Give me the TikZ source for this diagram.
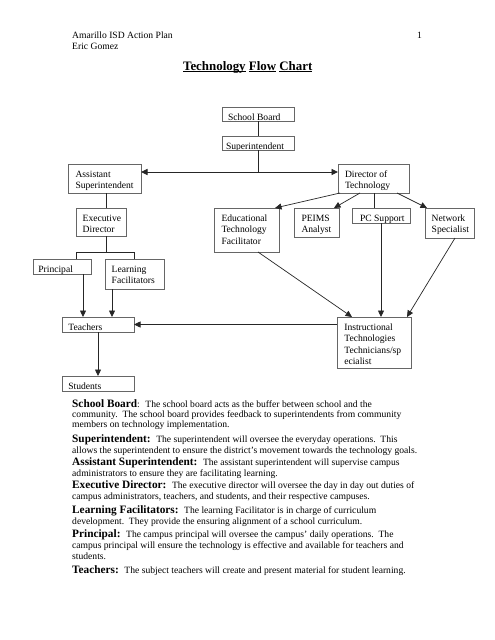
\documentclass[tikz,border=0pt]{standalone}
\usepackage{fontspec}
\setmainfont{Liberation Serif}
\usetikzlibrary{arrows.meta}
\newcommand\boxfont{\fontsize{9.6}{11.2}\selectfont}
\newcommand\descfont{\fontsize{9.6}{11.2}\selectfont}
\newcommand\hd{\fontsize{11.3}{13}\selectfont\bfseries}
\newcommand\boxtxt[1]{\begin{tabular}[t]{@{}l@{}}#1\end{tabular}}
\newcommand\myul[1]{\setbox0\hbox{#1}\rlap{\rule[-2.2pt]{\wd0}{0.8pt}}\box0\relax}
\tikzset{
  box/.style={draw=black!60, line width=0.6pt, inner sep=0pt, outer sep=0pt, anchor=north west},
  conn/.style={draw=black!85, line width=0.7pt},
  arr/.style={-{Triangle[length=6.5pt,width=6pt]}},
  desc/.style={anchor=base west, inner sep=0pt, font=\descfont},
}
\newcommand\chartbox[7][7]{%
  \node[box, minimum width=#5pt, minimum height=#6pt,
    path picture={\node[anchor=base west, inner sep=0pt, minimum width=0pt, minimum height=0pt, font=\boxfont]
      at ([xshift=#1pt, yshift=-13.6pt]path picture bounding box.north west) {\boxtxt{#7}};}]
    (#2) at (#3,#4) {};}
\begin{document}
\begin{tikzpicture}[x=1pt,y=-1pt]
\useasboundingbox[fill=white] (0,0) rectangle (495,640);
% header
\node[desc] (h1) at (72,38) {Amarillo ISD Action Plan};
\node[desc] (h2) at (72,49.5) {Eric Gomez};
\node[anchor=base east, inner sep=0pt, font=\descfont] (pg) at (422,38) {1};
\node[anchor=base, inner sep=0pt, font=\fontsize{12.9}{15}\selectfont\bfseries] (title) at (247.7,70)
  {\myul{Technology} \myul{Flow} \myul{Chart}};
% boxes
\chartbox[6]{SB}{222}{107}{72}{14}{School Board}
\chartbox[4]{Sup}{222}{136}{72}{14}{Superintendent}
\chartbox[7.5]{ASup}{68}{164}{73}{29}{Assistant\\Superintendent}
\chartbox[6.7]{ED}{76}{208}{50}{28}{Executive\\Director}
\chartbox[5.3]{Pri}{33}{259}{58}{15}{Principal}
\chartbox[6.7]{LF}{105}{259}{59}{30}{Learning\\Facilitators}
\chartbox[6.3]{Tea}{62}{317}{72}{15}{Teachers}
\chartbox[6.3]{Stu}{62}{376}{72}{15}{Students}
\chartbox[7]{DT}{338}{164}{71}{29}{Director of\\Technology}
\chartbox[7.5]{ETF}{214}{208}{65}{44}{Educational\\Technology\\Facilitator}
\chartbox[7.5]{PEIMS}{294}{208}{45}{29}{PEIMS\\Analyst}
\chartbox[8]{PC}{352}{208}{58}{15}{PC Support}
\chartbox[6.7]{NS}{425}{208}{49}{30}{Network\\Specialist}
\chartbox[7.3]{IT}{337}{317}{74}{51}{Instructional\\Technologies\\Technicians/sp\\ecialist}
% connectors
\coordinate (J) at (258,172);
\draw[conn] (SB.south) -- (Sup.north);
\draw[conn] (Sup.south) -- (J);
\draw[conn,arr,line width=0.9pt] (J) -- (J -| ASup.east);
\draw[conn,arr,line width=0.9pt] (J) -- (J -| DT.west);
\coordinate (ea) at (106,200);
\draw[conn] (ea |- ASup.south) -- (ea |- ED.north);
\coordinate (bl) at (76,252);
\coordinate (br) at (134,252);
\draw[conn] (ea |- ED.south) -- (ea |- bl);
\draw[conn] (bl |- Pri.north) -- (bl) -- (br) -- (br |- LF.north);
\coordinate (pa) at (83,300);
\coordinate (la) at (112,300);
\draw[conn,arr] (pa |- Pri.south) -- (pa |- Tea.north);
\draw[conn,arr] (la |- LF.south) -- (la |- Tea.north);
\draw[conn,arr] (Tea.south) -- (Stu.north);
\draw[conn,arr] (Tea.east -| IT.west) -- (Tea.east);
\draw[conn,arr] ([xshift=2pt]DT.south west) -- ([xshift=-4pt]ETF.north east);
\draw[conn,arr] ([xshift=22pt]DT.south west) -- ([xshift=-5pt]PEIMS.north east);
\coordinate (pcx) at (374.5,200);
\draw[conn] (pcx |- DT.south) -- (pcx |- PC.north);
\draw[conn,arr] ([xshift=-12pt]DT.south east) -- ([xshift=2pt]NS.north west);
\draw[conn,arr] ([xshift=11.5pt]ETF.south) -- ([xshift=15pt]IT.north west);
\draw[conn,arr] (PC.south) -- (PC.south |- IT.north);
\draw[conn,arr] ([xshift=5.5pt]NS.south) -- ([xshift=-4pt]IT.north east);
% descriptions
\node[desc] (d1) at (72,407) {{\hd School Board}: \ The school board acts as the buffer between school and the};
\node[desc] (d2) at (72,417.5) {community.\ \ The school board provides feedback to superintendents from community};
\node[desc] (d3) at (72,427.5) {members on technology implementation.};
\node[desc] (d4) at (72,442) {{\hd Superintendent:} \ The superintendent will oversee the everyday operations.\ \ This};
\node[desc] (d5) at (72,453) {allows the superintendent to ensure the district’s movement towards the technology goals.};
\node[desc] (d6) at (72,465) {{\hd Assistant Superintendent:} \ The assistant superintendent will supervise campus};
\node[desc] (d7) at (72,476) {administrators to ensure they are facilitating learning.};
\node[desc] (d8) at (72,488.5) {{\hd Executive Director:} \ The executive director will oversee the day in day out duties of};
\node[desc] (d9) at (72,499.5) {campus administrators, teachers, and students, and their respective campuses.};
\node[desc] (d10) at (72,513) {{\hd Learning Facilitators:} \ The learning Facilitator is in charge of curriculum};
\node[desc] (d11) at (72,524) {development.\ \ They provide the ensuring alignment of a school curriculum.};
\node[desc] (d12) at (72,537.5) {{\hd Principal:} \ The campus principal will oversee the campus’ daily operations.\ \ The};
\node[desc] (d13) at (72,548.5) {campus principal will ensure the technology is effective and available for teachers and};
\node[desc] (d14) at (72,559.5) {students.};
\node[desc] (d15) at (72,573) {{\hd Teachers:} \ The subject teachers will create and present material for student learning.};
\end{tikzpicture}
\end{document}
